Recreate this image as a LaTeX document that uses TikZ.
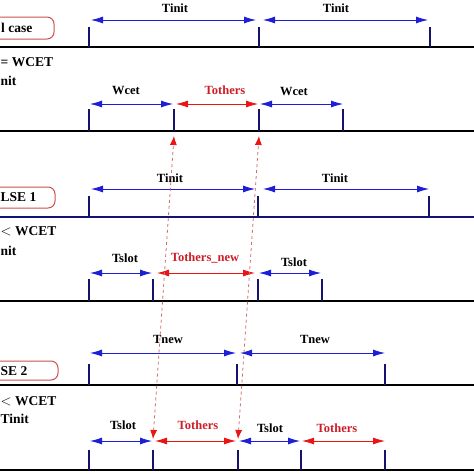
\documentclass[tikz,border=0pt]{standalone}
\usepackage{fontspec}
\setmainfont{Liberation Serif}
\usetikzlibrary{arrows.meta}

\definecolor{tickblue}{RGB}{20,20,110}
\definecolor{arrblue}{RGB}{30,30,215}
\definecolor{arrred}{RGB}{235,20,20}
\definecolor{txtred}{RGB}{205,30,40}
\definecolor{dashred}{RGB}{205,110,110}
\definecolor{boxred}{RGB}{205,80,80}

\tikzset{
  timeline/.style={line width=1.8pt},
  slotmark/.style={tickblue,line width=1.8pt},
  spanblue/.style={arrblue,line width=0.8pt,{Latex[length=12pt,width=7pt]}-{Latex[length=12pt,width=7pt]}},
  spanred/.style={arrred,line width=0.8pt,{Latex[length=12pt,width=7pt]}-{Latex[length=12pt,width=7pt]}},
  lbl/.style={font=\fontsize{12.5}{14}\selectfont\bfseries,inner sep=0pt},
  redlbl/.style={lbl,text=txtred},
  sidelbl/.style={font=\fontsize{13.5}{15}\selectfont\bfseries,inner sep=0pt,anchor=west},
  casebox/.style={boxred,line width=1pt,rounded corners=7pt},
  moved/.style={dashred,line width=0.8pt,dash pattern=on 3pt off 3pt,
    {Latex[length=9pt,width=7pt,color=arrred]}-{Latex[length=9pt,width=7pt,color=arrred]}},
}

\begin{document}
\begin{tikzpicture}[x=1pt,y=-1pt]
    \useasboundingbox (0,0) rectangle (474,474);
    \clip (0,0) rectangle (474,474);

    % ideal case
    \draw[casebox] (-10,17) rectangle (54,39);
    \node[sidelbl] (ideal) at (1,28) {l case};
    \node[sidelbl] (idealw) at (0.5,62) {= WCET};
    \node[sidelbl] (idealt) at (0.5,81) {nit};

    \draw[timeline] (0,47) -- (474,47);
    \foreach \x in {89,259,430} \draw[slotmark] (\x,27) -- (\x,47);
    \draw[spanblue] (91,20) -- (256,20);
    \draw[spanblue] (263,20) -- (428,20);
    \node[lbl] (ti1) at (175,8) {Tinit};
    \node[lbl] (ti2) at (336,8) {Tinit};

    \draw[timeline] (0,131) -- (474,131);
    \foreach \x in {89,174,259,343} \draw[slotmark] (\x,109) -- (\x,131);
    \draw[spanblue] (90,104) -- (173,104);
    \draw[spanred] (176,104) -- (258,104);
    \draw[spanblue] (260,104) -- (343,104);
    \node[lbl] (wc1) at (126,90) {Wcet};
    \node[redlbl] (to1) at (225,90) {Tothers};
    \node[lbl] (wc2) at (294,92) {Wcet};

    % case 1
    \draw[casebox] (-10,187) rectangle (55,208);
    \node[sidelbl] (case1) at (0.5,197) {LSE 1};
    \node[sidelbl] (case1w) at (0.5,231) {$<$ WCET};
    \node[sidelbl] (case1t) at (0.5,251) {nit};

    \draw[timeline,tickblue] (0,217) -- (474,217);
    \foreach \x in {89,258,429} \draw[slotmark] (\x,196) -- (\x,217);
    \draw[spanblue] (91,189) -- (255,189);
    \draw[spanblue] (263,189) -- (429,189);
    \node[lbl] (ti3) at (170,178) {Tinit};
    \node[lbl] (ti4) at (335,178) {Tinit};

    \draw[timeline] (0,301) -- (474,301);
    \foreach \x in {89,153,258,322} \draw[slotmark] (\x,279) -- (\x,301);
    \draw[spanblue] (90,273) -- (152,273);
    \draw[spanred] (157,273) -- (255,273);
    \draw[spanblue] (259,273) -- (321,273);
    \node[lbl] (ts1) at (125,258) {Tslot};
    \node[redlbl] (tn1) at (205,258) {Tothers\_new};
    \node[lbl] (ts2) at (294,262) {Tslot};

    % case 2
    \draw[casebox] (-10,361) rectangle (58,380);
    \node[sidelbl] (case2) at (0.5,371) {SE 2};
    \node[sidelbl] (case2w) at (0.5,401) {$<$ WCET};
    \node[sidelbl] (case2t) at (0.5,419) {Tinit};

    \draw[timeline] (0,385) -- (474,385);
    \foreach \x in {89,237,385} \draw[slotmark] (\x,364) -- (\x,385);
    \draw[spanblue] (90,353) -- (236,353);
    \draw[spanblue] (240,353) -- (385,353);
    \node[lbl] (tw1) at (168,339) {Tnew};
    \node[lbl] (tw2) at (315,339) {Tnew};

    \draw[timeline] (0,470) -- (474,470);
    \foreach \x in {89,153,238,301,385} \draw[slotmark] (\x,450) -- (\x,470);
    \draw[spanblue] (90,441) -- (152,441);
    \draw[spanred] (155,441) -- (236,441);
    \draw[spanblue] (239,441) -- (300,441);
    \draw[spanred] (302,441) -- (385,441);
    \node[lbl] (ts3) at (123,425) {Tslot};
    \node[redlbl] (to2) at (198,425) {Tothers};
    \node[lbl] (ts4) at (270,428) {Tslot};
    \node[redlbl] (to3) at (337,428) {Tothers};

    % shifted slot borders
    \coordinate (s1top) at (174,136);
    \coordinate (s1bot) at (153,439);
    \coordinate (s2top) at (259,136);
    \coordinate (s2bot) at (238,439);
    \draw[moved] (s1bot) -- (s1top);
    \draw[moved] (s2bot) -- (s2top);
\end{tikzpicture}
\end{document}
